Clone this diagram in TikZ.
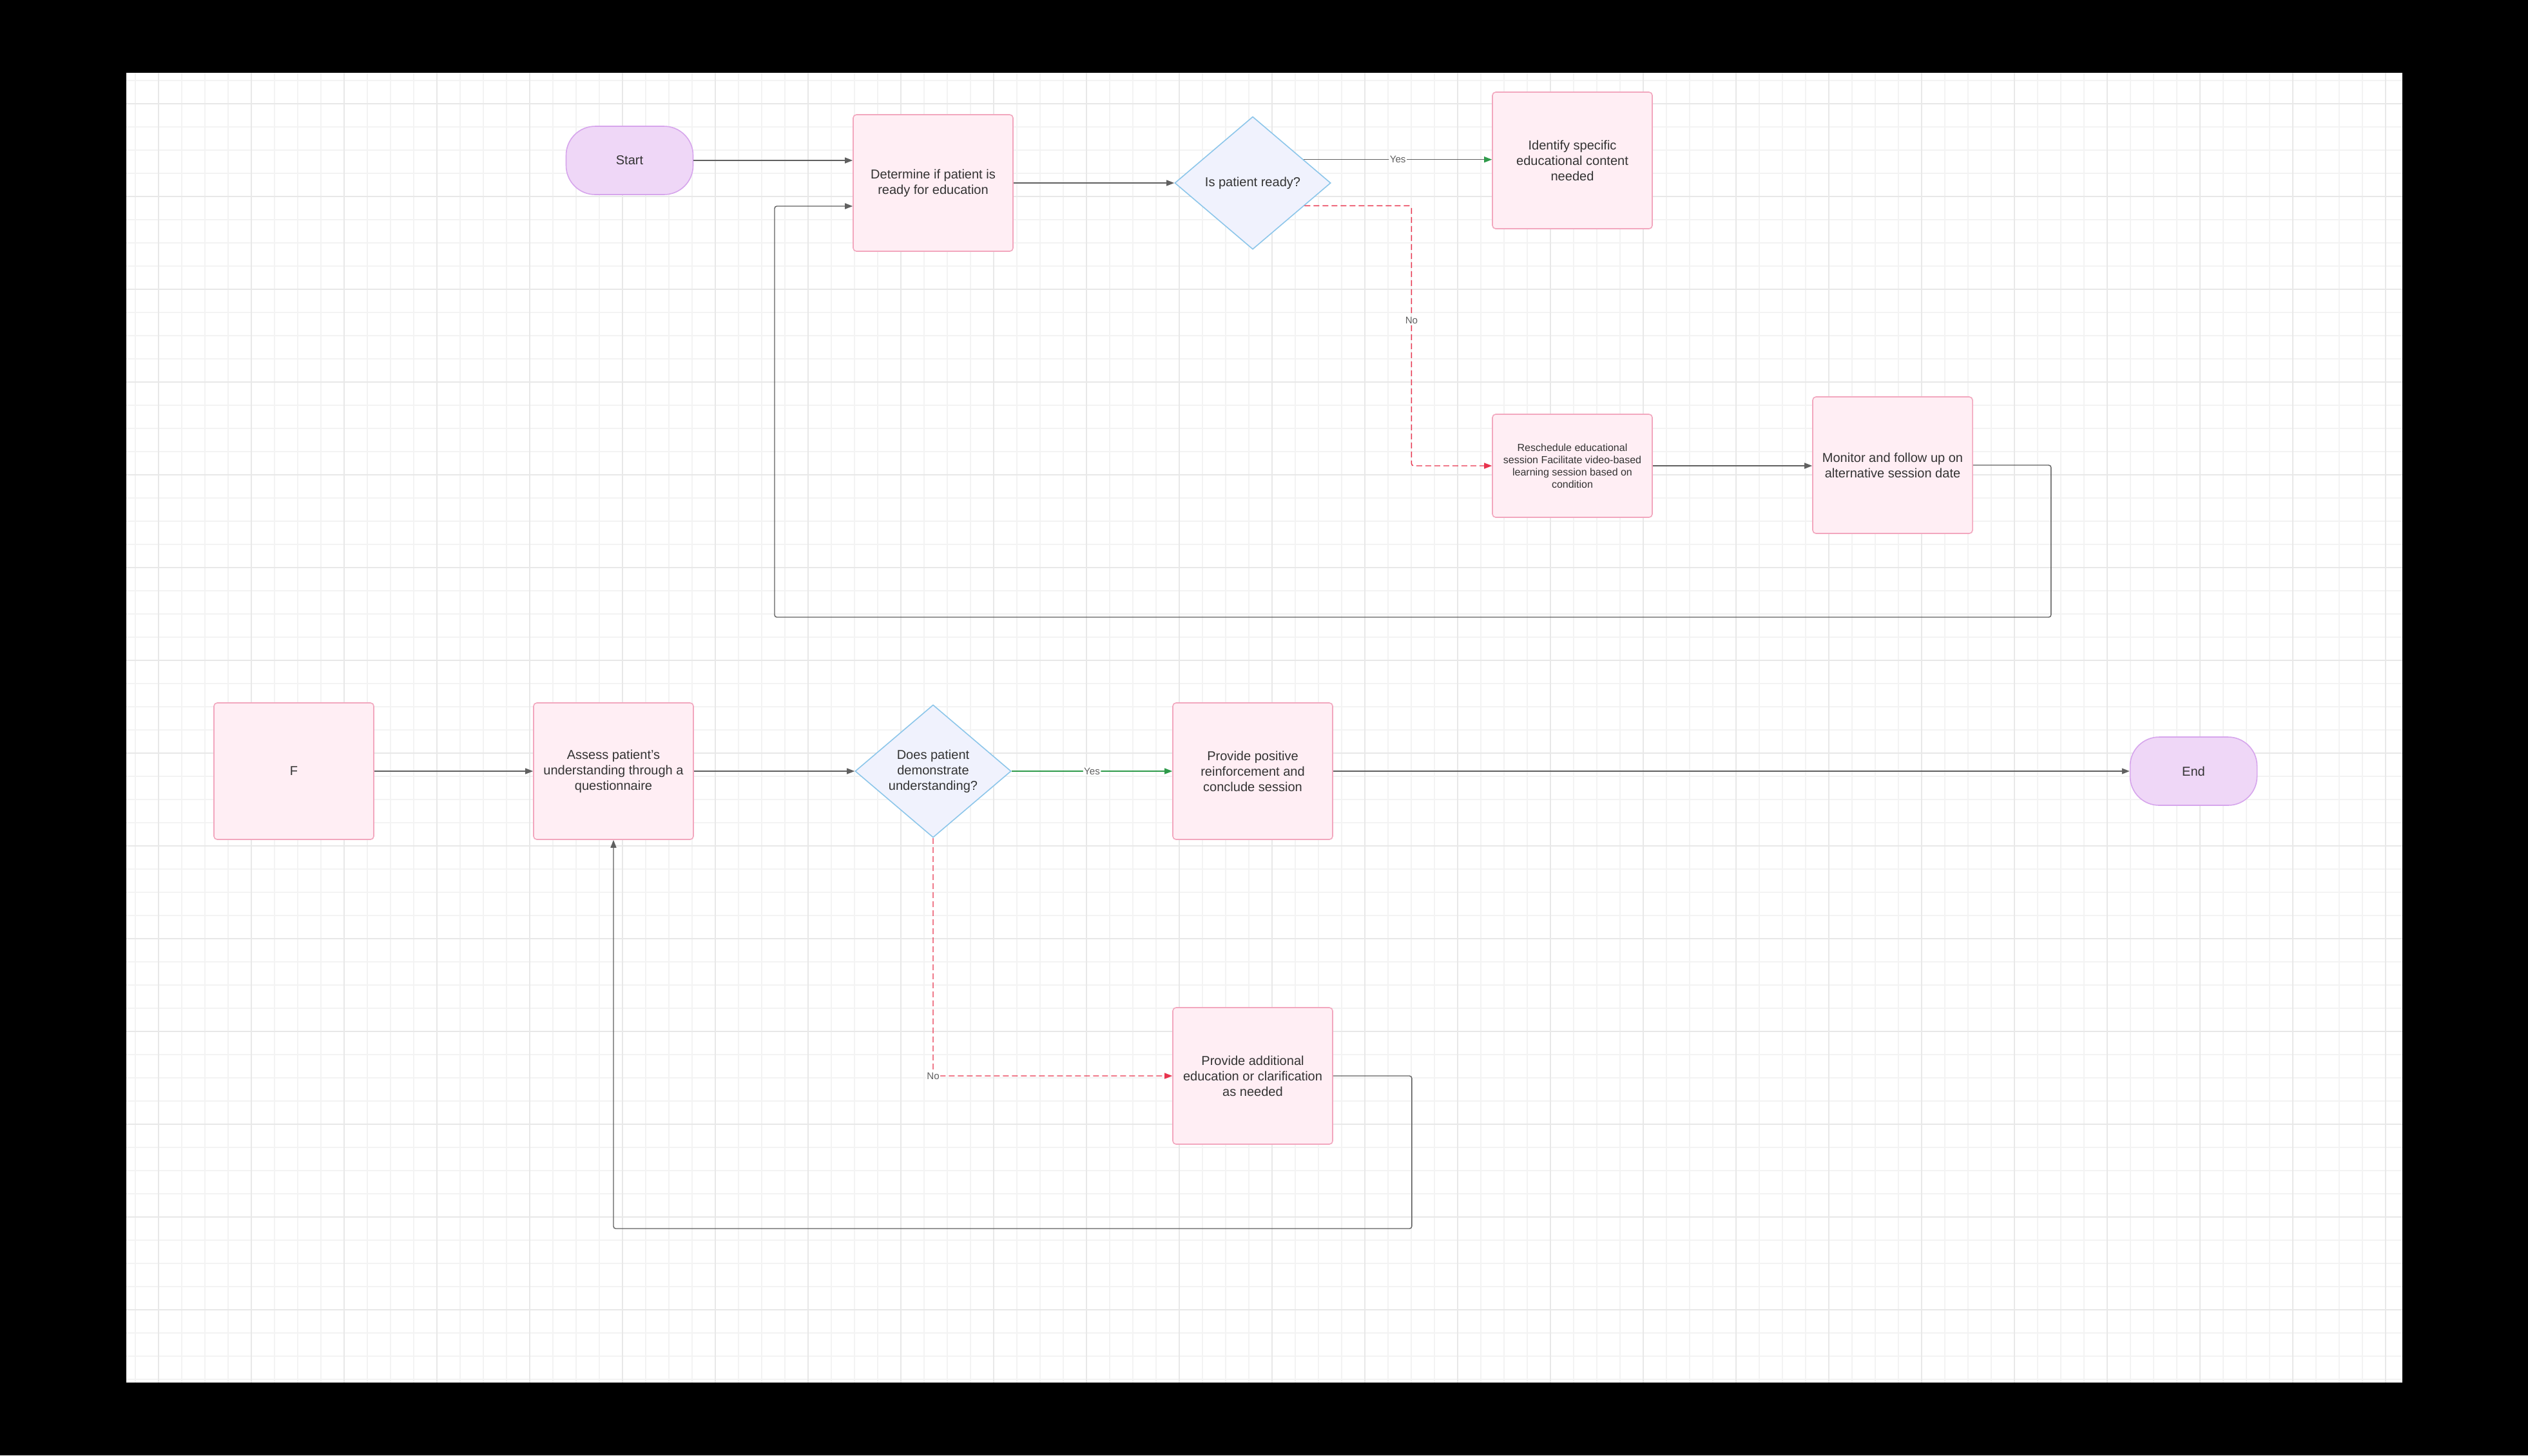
\documentclass[tikz,border=0pt]{standalone}
\usepackage{fontspec}
\setmainfont{Liberation Sans}
\usetikzlibrary{shapes.geometric,arrows.meta,calc}
\definecolor{boxfill}{HTML}{FFEEF4}
\definecolor{boxline}{HTML}{F2A7BE}
\definecolor{askfill}{HTML}{F0F2FD}
\definecolor{askline}{HTML}{8CC6EA}
\definecolor{termfill}{HTML}{EFD7F7}
\definecolor{termline}{HTML}{D6A5EC}
\definecolor{ink}{HTML}{333333}
\definecolor{wire}{HTML}{606060}
\definecolor{yesgreen}{HTML}{2E9A4A}
\definecolor{nored}{HTML}{E8344E}
\definecolor{gridminor}{HTML}{F3F3F3}
\definecolor{gridmajor}{HTML}{E8E8E8}
\begin{document}
\begin{tikzpicture}[
    txt/.style={font=\fontsize{5.7}{6.8}\selectfont, text=ink, align=center},
    box/.style={txt, draw=boxline, fill=boxfill, line width=0.45pt, rounded corners=0.5mm,
      minimum width=2.48cm, minimum height=2.12cm},
    ask/.style={txt, diamond, aspect=1.2, draw=askline, fill=askfill, line width=0.45pt,
      inner sep=0pt, minimum width=2.42cm, minimum height=2.06cm},
    term/.style={txt, draw=termline, fill=termfill, line width=0.45pt, rounded corners=4.5mm,
      minimum width=1.97cm, minimum height=1.06cm},
    tip/.style={-{Triangle[length=1.2mm,width=0.9mm]}},
    flow/.style={draw=wire, line width=0.4pt, rounded corners=1pt, tip},
    yesline/.style={flow, draw=yesgreen},
    noline/.style={flow, draw=nored, dash pattern=on 0.9mm off 0.5mm},
    lbl/.style={font=\fontsize{4.3}{5}\selectfont, text=wire, fill=white, inner sep=0.4pt}
  ]
    \useasboundingbox (0,0) rectangle (39.23,-22.59);
    \fill[black] (0,0) rectangle (39.23,-22.59);
    \fill[white] (1.96,-1.13) rectangle (37.28,-21.46);
    \foreach \i in {0,...,97}
      \draw[gridminor, line width=0.4pt] ({2.10+0.36*\i},-1.13) -- ({2.10+0.36*\i},-21.46);
    \foreach \j in {0,...,56}
      \draw[gridminor, line width=0.4pt] (1.96,{-1.25-0.36*\j}) -- (37.28,{-1.25-0.36*\j});
    \foreach \i in {0,...,24}
      \draw[gridmajor, line width=0.5pt] ({2.46+1.44*\i},-1.13) -- ({2.46+1.44*\i},-21.46);
    \foreach \j in {0,...,13}
      \draw[gridmajor, line width=0.5pt] (1.96,{-1.61-1.44*\j}) -- (37.28,{-1.61-1.44*\j});

    \node[term] (start) at (9.77,-2.49) {Start};
    \node[box] (determine) at (14.48,-2.84) {Determine if patient is\\ready for education};
    \node[ask] (ready) at (19.44,-2.84) {Is patient ready?};
    \node[box] (identify) at (24.40,-2.49) {Identify specific\\educational content\\needed};
    \node[box, minimum height=1.60cm, font=\fontsize{4.55}{5.4}\selectfont] (reschedule) at (24.40,-7.23)
      {Reschedule educational\\session Facilitate video-based\\learning session based on\\condition};
    \node[box] (monitor) at (29.37,-7.22) {Monitor and follow up on\\alternative session date};

    \node[box] (f) at (4.56,-11.97) {F};
    \node[box] (assess) at (9.52,-11.97) {Assess patient's\\understanding through a\\questionnaire};
    \node[ask] (understand) at (14.48,-11.97) {Does patient\\demonstrate\\understanding?};
    \node[box] (positive) at (19.44,-11.97) {Provide positive\\reinforcement and\\conclude session};
    \node[term] (finish) at (34.04,-11.97) {End};
    \node[box] (additional) at (19.44,-16.70) {Provide additional\\education or clarification\\as needed};

    \coordinate (yesout) at ($(ready.east)!0.35!(ready.north)$);
    \coordinate (noout) at ($(ready.east)!0.34!(ready.south)$);
    \coordinate (backtop) at (12.02,-9.58);
    \coordinate (backbottom) at (9.52,-19.07);

    \draw[flow] (start.east) -- (start.east -| determine.west);
    \draw[flow] (determine.east) -- (ready.west);
    \draw[flow, -{Triangle[length=1.2mm,width=0.9mm,color=yesgreen]}]
      (yesout) -- node[lbl] {Yes} (yesout -| identify.west);
    \draw[noline] (noout) -- ++(1.66,0) |- node[lbl, pos=0.22] {No} (reschedule.west);
    \draw[flow] (reschedule.east) -- (reschedule.east -| monitor.west);
    \draw[flow] (monitor.east) -- ++(1.21,0) |- (backtop) |- ($(determine.west)+(0,-0.36)$);

    \draw[flow] (f.east) -- (assess.west);
    \draw[flow] (assess.east) -- (understand.west);
    \draw[yesline] (understand.east) -- node[lbl] {Yes} (positive.west);
    \draw[flow] (positive.east) -- (finish.west);
    \draw[noline] (understand.south) |- node[lbl, pos=0.5] {No} (additional.west);
    \draw[flow] (additional.east) -- ++(1.22,0) |- (backbottom) -- (assess.south);
  \end{tikzpicture}
\end{document}
